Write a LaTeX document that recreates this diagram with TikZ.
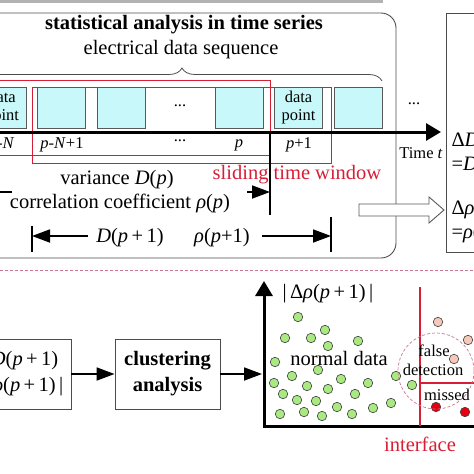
\documentclass[tikz,border=0pt]{standalone}
\usepackage{fontspec}
\setmainfont{Liberation Serif}
\usetikzlibrary{arrows.meta,decorations.pathreplacing}
\definecolor{cyanbox}{RGB}{200,248,250}
\definecolor{redline}{RGB}{215,30,55}
\definecolor{circline}{RGB}{200,120,140}
\definecolor{greendot}{RGB}{170,232,130}
\definecolor{pinkdot}{RGB}{245,200,185}
\definecolor{reddot}{RGB}{230,0,20}
\newcommand{\vi}[1]{\textit{#1}}
\newcommand{\rh}{{\itshape ρ}}
\begin{document}
\begin{tikzpicture}[x=1pt, y=-1pt,
   big/.style={font=\fontsize{20.5}{23}\selectfont},
   mid/.style={font=\fontsize{16.5}{18}\selectfont},
   datapt/.style={draw=gray!70!black, fill=cyanbox, line width=0.8,
     minimum width=48, minimum height=41, inner sep=0, align=center,
     font=\fontsize{16.5}{18}\selectfont},
   win/.style={draw=redline, line width=0.7},
   bar/.style={line width=1.1},
   dot/.style={circle, draw=black!75, line width=0.6, minimum size=9.5, inner sep=0},
   procbox/.style={draw=gray!60!black, line width=0.9, minimum height=70, align=center,
     font=\fontsize{20.5}{26}\selectfont},
   thick arrow/.style={line width=3, -{Triangle[length=15pt,width=17pt]}},
   small arrow/.style={line width=1.8, -{Triangle[length=18pt,width=13pt]}}]
\useasboundingbox (0,0) rectangle (474,474);
\clip (0,0) rectangle (474,474);
\fill[gray!60] (0,0) rectangle (383,2.5);
% upper part: time series
\draw[gray!60!black, line width=0.9, rounded corners=15] (-30,13) rectangle (396,258);
\draw[gray!60!black, line width=0.9] (446,13) rectangle (520,252);
\node[big] (title) at (184,25) {\bfseries statistical analysis in time series};
\node[big] (seq) at (181,50) {electrical data sequence};
\draw[gray!60!black, line width=0.8, decorate, decoration={brace, amplitude=13}]
  (-18,81) -- (382,81);
\draw[win] (-10,80) rectangle (270,155);
\draw[win] (32,87) rectangle (331,163);
\node[datapt] (dp0) at (2,107.5) {data\\point};
\node[datapt] (dp1) at (61.5,107.5) {};
\node[datapt] (dp2) at (121,107.5) {};
\node[mid] (dots1) at (180,106) {...};
\node[datapt] (dp3) at (239,107.5) {};
\node[datapt] (dp4) at (298.5,107.5) {data\\point};
\node[datapt] (dp5) at (358,107.5) {};
\node[mid] (dots2) at (414,104) {...};
\coordinate (tstart) at (-10,132);
\coordinate (tend) at (441,132);
\draw[thick arrow] (tstart) -- (tend);
\node[mid] (time) at (421,153) {Time \vi{t}};
\node[mid, anchor=east] (l0) at (18,145) {\vi{p}-\vi{N}};
\node[mid] (l1) at (62,145) {\vi{p}-\vi{N}+1};
\node[mid] (l2) at (180,141) {...};
\node[mid] (l3) at (239,145) {\vi{p}};
\node[mid] (l4) at (299,145) {\vi{p}+1};
\node[big, text=redline] (slide) at (297,175) {sliding time window};
\node[big] (var) at (117,180) {variance \vi{D}(\vi{p})};
\node[big] (corr) at (120,203) {correlation coefficient \rh(\vi{p})};
\draw[bar] (270,133) -- (270,215);
\draw[bar] (-25,180) -- (-25,215);
\coordinate (w1l) at (-25,192);
\coordinate (w1r) at (270,192);
\draw[small arrow] (12,192) -- (w1l);
\draw[small arrow] (247,192) -- (w1r);
\draw[bar] (32,226) -- (32,252);
\draw[bar] (331,217) -- (331,252);
\node[big] (dnext) at (130,238) {\vi{D}(\vi{p}\,+\,1)};
\node[big] (rnext) at (222,238) {\rh(\vi{p}+1)};
\coordinate (w2l) at (32,236);
\coordinate (w2r) at (331,236);
\draw[small arrow] (dnext.west) ++(-5,-2) -- (w2l);
\draw[small arrow] (rnext.east) ++(9,-2) -- (w2r);
\draw[gray!70!black, line width=0.9, fill=white]
  (359,204) -- (429,204) -- (429,197) -- (444,210) -- (429,223) -- (429,216) -- (359,216) -- cycle;
\node[big, anchor=west] (dd1) at (448,142) {Δ\vi{D}(\vi{p}+1)};
\node[big, anchor=west] (dd2) at (448,166) {=\vi{D}(\vi{p}+1)};
\node[big, anchor=west] (dr1) at (448,210) {Δ\rh(\vi{p}+1)};
\node[big, anchor=west] (dr2) at (448,234) {=\rh(\vi{p}+1)};
\draw[circline, dashed, dash pattern=on 3pt off 2pt, line width=0.7] (0,270) -- (474,270);
% lower part: clustering
\node[procbox, minimum width=106] (feat) at (18,374)
  {Δ\vi{D}(\vi{p}\,+\,1)\\|\,Δ\rh(\vi{p}\,+\,1)\,|};
\node[procbox, minimum width=105] (clust) at (167.5,374) {\bfseries clustering\\\bfseries analysis};
\draw[small arrow] (feat) -- (clust);
\coordinate (origin) at (264,426);
\coordinate (ytop) at (264,281);
\coordinate (xend) at (490,426);
\coordinate (yin) at (262,374);
\draw[small arrow] (clust) -- (yin);
\draw[thick arrow, line join=miter] (xend) -- (origin) -- (ytop);
\node[big, anchor=west] (ylab) at (279,294) {|\,Δ\rh(\vi{p}\,+\,1)\,|};
\node[big] (normal) at (339,358) {normal data};
\foreach \px/\py [count=\i] in {298/317, 285/338, 311/338, 325/330, 328/346, 358/341,
    275/362, 318/370, 292/376, 274/383, 307/386, 341/379, 328/389, 368/383, 396/376,
    412/385, 283/394, 355/394, 297/400, 316/401, 337/407, 373/408, 391/403, 280/414,
    304/412, 322/416, 352/414}
  \node[dot, fill=greendot] (g\i) at (\px,\py) {};
\foreach \px/\py [count=\i] in {438/322, 468/340, 454/359}
  \node[dot, fill=pinkdot] (f\i) at (\px,\py) {};
\foreach \px/\py [count=\i] in {436/407, 465/412}
  \node[dot, fill=reddot] (m\i) at (\px,\py) {};
\draw[redline, line width=1.1] (420,287) -- (420,426);
\draw[redline, line width=1.1] (420,383) -- (480,383);
\draw[circline, dashed, dash pattern=on 3pt off 2pt, line width=0.7] (436,371) circle (38);
\node[mid] (false) at (434,351) {false};
\node[mid] (detect) at (433,370) {detection};
\node[mid] (missed) at (447,395) {missed};
\node[big, text=redline] (iface) at (420,444) {interface};
\end{tikzpicture}
\end{document}
